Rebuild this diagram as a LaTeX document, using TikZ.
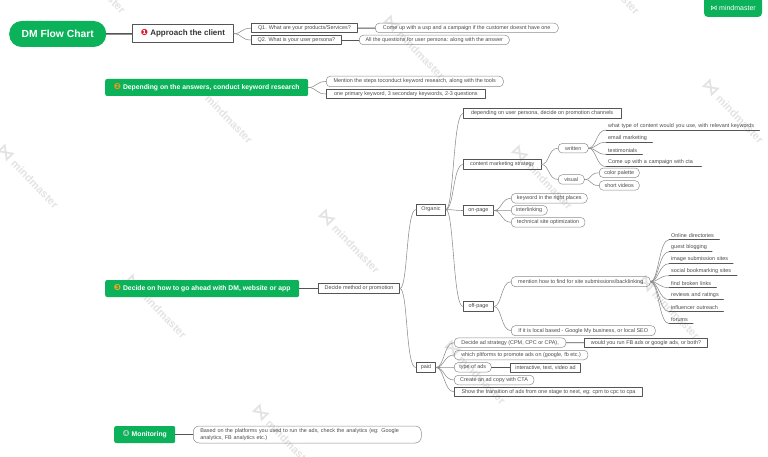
\documentclass[tikz,border=0pt]{standalone}
\usepackage{fontspec}
\setmainfont{Liberation Sans}
\newfontfamily\dejavu{DejaVu Sans}
\definecolor{mmgreen}{HTML}{0CB25A}
\definecolor{mmink}{HTML}{4A4A4A}
\definecolor{mmline}{HTML}{8C8C8C}
\definecolor{mmedge}{HTML}{555555}
\definecolor{mmmark}{HTML}{E3E3E3}
\definecolor{mmred}{HTML}{E5132B}
\definecolor{mmorange}{HTML}{F7941D}
\definecolor{mmamber}{HTML}{F5A623}
\definecolor{mmgrey}{HTML}{A9C9B4}
\newcommand{\stepno}[2]{{\dejavu\fontsize{8.5}{8}\selectfont\textcolor{#1}{#2}}}
\newcommand{\mmicon}[1]{{\dejavu\fontsize{#1}{#1}\selectfont ⋈}}
\begin{document}
\begin{tikzpicture}[x=1pt,y=-1pt,line join=round,line cap=round,font=\fontsize{5.45}{6.9}\selectfont,
	txt/.style={anchor=west,text=mmink,inner sep=0pt,minimum height=9.5pt,align=center},
	boxed/.style={txt,draw=mmedge,line width=0.9pt},
	pill/.style={txt,draw=mmline,line width=0.5pt,rounded corners=4pt},
	uline/.style={anchor=south west,text=mmink,inner xsep=2pt,inner ysep=1.5pt,align=left,
		append after command={(\tikzlastnode.south west) edge[draw=mmedge,line width=0.7pt] (\tikzlastnode.south east)}},
	stepbox/.style={anchor=west,fill=mmgreen,text=white,rounded corners=2pt,inner sep=0pt,minimum height=17pt,font=\fontsize{6.8}{8}\selectfont\bfseries},
	link/.style={draw=mmline,line width=0.55pt,out=0,in=180,out distance=8pt,in distance=10pt},
	stem/.style={draw=mmedge,line width=0.8pt},
	wmark/.style={text=mmmark,rotate=-46,font=\fontsize{11}{12}\selectfont\bfseries}]
	\useasboundingbox (0,0) rectangle (768,457);
	\path[clip] (0,0) rectangle (768,457);
	\foreach \mx/\my in {96/-19,29/176,223/111,350/241,157/306,284/436,415/47,543/177,670/307,610/-18,734/111,476/372}
		\node[wmark] (wm\mx) at (\mx,\my) {\mmicon{17} mindmaster};
	\fill[mmgreen,rounded corners=4pt] (704,-6) rectangle (762,17);
	\node[text=white,font=\fontsize{7}{8}\selectfont] (logo) at (733,8.5) {\mmicon{7} mindmaster};
	% first branch
	\node[anchor=west,fill=mmgreen,text=white,rounded corners=12.5pt,minimum width=97pt,minimum height=26pt,inner sep=0pt,font=\fontsize{10.3}{12}\selectfont\bfseries] (root) at (9,34) {DM Flow Chart};
	\node[boxed,minimum width=101pt,minimum height=17.5pt,text=black!80,font=\fontsize{8}{9}\selectfont\bfseries] (stepA) at (132,33.7) {\stepno{mmred}{❶} Approach the client};
	\node[boxed,minimum width=106pt] (qOne) at (251,28.2) {Q1. What are your products/Services?};
	\node[boxed,minimum width=90pt] (qTwo) at (251,40) {Q2. What is your user persona?};
	\node[pill,minimum width=183pt] (qOneA) at (375,28) {Come up with a usp and a campaign if the customer doesnt have one};
	\node[pill,minimum width=150pt] (qTwoA) at (359,40) {All the questions for user persona: along with the answer};
	\draw[draw=mmedge,line width=1.6pt] (root) -- (stepA);
	\draw[link] (stepA.east) to (qOne.west);
	\draw[link] (stepA.east) to (qTwo.west);
	\draw[stem] (qOne) -- (qOneA);
	\draw[stem] (qTwo) -- (qTwoA);
	% second branch
	\node[stepbox,minimum width=203pt] (stepB) at (105,87.5) {\stepno{mmorange}{❷} Depending on the answers, conduct keyword research};
	\node[pill,minimum width=177pt,minimum height=10.5pt] (kwA) at (326,81.5) {Mention the steps toconduct keyword research, along with the tools};
	\node[boxed,minimum width=159pt] (kwB) at (326,94) {one primary keyword, 3 secondary keywords, 2-3 questions};
	\draw[link] (stepB.east) to (kwA.west);
	\draw[link] (stepB.east) to (kwB.west);
	% third branch
	\node[stepbox,minimum width=194pt] (stepC) at (105,288.5) {\stepno{mmamber}{❸} Decide on how to go ahead with DM, website or app};
	\node[boxed,minimum width=81pt] (method) at (318,288.5) {Decide method or promotion};
	\node[boxed,minimum width=29pt,minimum height=11pt] (organic) at (416,209.5) {Organic};
	\node[boxed,minimum width=19.5pt] (paid) at (415.7,367.5) {paid};
	\draw[stem] (stepC) -- (method);
	\draw[link] (method.east) to (organic.west);
	\draw[link] (method.east) to (paid.west);
	% organic
	\node[boxed,minimum width=157.5pt] (channels) at (463,113.5) {depending on user persona, decide on promotion channels};
	\node[boxed,minimum width=77.5pt] (content) at (463,164.5) {content marketing strategy};
	\node[boxed,minimum width=30pt] (onpage) at (463,210.5) {on-page};
	\node[boxed,minimum width=30pt,minimum height=10.5pt] (offpage) at (463,306.5) {off-page};
	\foreach \child in {channels,content,onpage,offpage}
		\draw[link] (organic.east) to (\child.west);
	\node[pill,minimum width=30pt] (written) at (558,148.2) {written};
	\node[pill,minimum width=26pt] (visual) at (558,179.5) {visual};
	\draw[link] (content.east) to (written.west);
	\draw[link] (content.east) to (visual.west);
	\node[uline,text width=149pt] (typeA) at (606,130) {what type of content would you use, with relevant keywords};
	\node[uline,text width=42pt] (typeB) at (606,142.3) {email marketing};
	\node[uline,text width=32pt] (typeC) at (606,154.3) {testimonials};
	\node[uline,text width=91pt] (typeD) at (606,166.7) {Come up with a campaign with cta};
	\foreach \child in {typeA,typeB,typeC,typeD}
		\draw[link] (written.east) to (\child.south west);
	\node[pill,minimum width=40pt] (palette) at (599,172.8) {color palette};
	\node[pill,minimum width=40pt] (videos) at (599,185.5) {short videos};
	\draw[link] (visual.east) to (palette.west);
	\draw[link] (visual.east) to (videos.west);
	\node[pill,minimum width=76pt] (places) at (511,198.3) {keyword in the right places};
	\node[pill,minimum width=36pt] (interlink) at (511,210.3) {interlinking};
	\node[pill,minimum width=73.7pt] (technical) at (511,222.3) {technical site optimization};
	\foreach \child in {places,interlink,technical}
		\draw[link] (onpage.east) to (\child.west);
	\node[pill,minimum width=139pt,minimum height=10pt] (submit) at (511,281.7) {mention how to find for site submissions/backlinking};
	\node[pill,minimum width=144pt,minimum height=10pt] (local) at (511,330.7) {If it is local based - Google My business, or local SEO};
	\draw[link] (offpage.east) to (submit.west);
	\draw[link] (offpage.east) to (local.west);
	\node[uline,text width=46pt] (siteA) at (669,239.7) {Online directories};
	\node[uline,text width=38.7pt] (siteB) at (669,251.7) {guest blogging};
	\node[uline,text width=59.7pt] (siteC) at (669,263.7) {image submission sites};
	\node[uline,text width=63.7pt] (siteD) at (669,275.7) {social bookmarking sites};
	\node[uline,text width=43pt] (siteE) at (669,287.7) {find broken links};
	\node[uline,text width=50pt] (siteF) at (669,299.7) {reviews and ratings};
	\node[uline,text width=50pt] (siteG) at (669,311.7) {influencer outreach};
	\node[uline,text width=19.7pt] (siteH) at (669,323.7) {forums};
	\foreach \child in {siteA,siteB,siteC,siteD,siteE,siteF,siteG,siteH}
		\draw[link] (submit.east) to (\child.south west);
	% paid
	\node[pill,minimum width=111.7pt] (adA) at (454,342.7) {Decide ad strategy (CPM, CPC or CPA),};
	\node[boxed,minimum width=123pt] (adAx) at (584,342.8) {would you run FB ads or google ads, or both?};
	\node[pill,minimum width=133.7pt] (adB) at (454,355) {which pltforms to promote ads on (google, fb etc.)};
	\node[pill,minimum width=37pt] (adC) at (454,367.3) {type of ads};
	\node[boxed,minimum width=70pt] (adCx) at (510,367.8) {interactive, text, video ad};
	\node[pill,minimum width=79.7pt] (adD) at (454,380) {Create an ad copy with CTA};
	\node[boxed,minimum width=188pt] (adE) at (454,391.8) {Show the transition of ads from one stage to next, eg: cpm to cpc to cpa};
	\foreach \child in {adA,adB,adC,adD,adE}
		\draw[link] (paid.east) to (\child.west);
	\draw[stem] (adA) -- (adAx);
	\draw[stem] (adC) -- (adCx);
	% fourth branch
	\node[stepbox,minimum width=61pt] (stepD) at (114,434.5) {\stepno{mmgrey}{❹} Monitoring};
	\node[pill,minimum width=227.7pt,minimum height=17pt,text width=214pt,align=left,rounded corners=6pt,inner xsep=7pt] (based) at (193,434.5) {Based on the platforms you used to run the ads, check the analytics (eg: Google\\analytics, FB analytics etc.)};
	\draw[stem] (stepD) -- (based);
\end{tikzpicture}
\end{document}
